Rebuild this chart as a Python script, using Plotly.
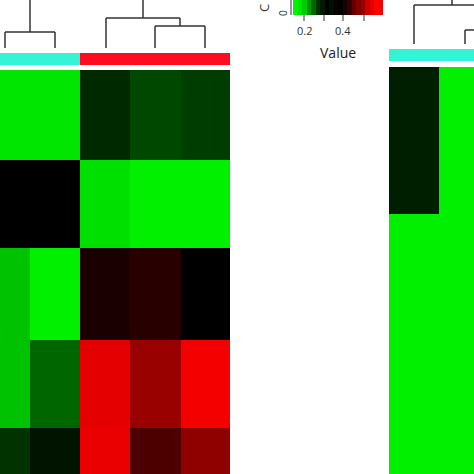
import plotly.graph_objects as go

# left heatmap: values 0=green, 0.5=black, 1=red
left_x_edges = [-20, 30, 80, 130, 181, 230]
left_y_edges = [70, 160, 248, 340, 428, 520]
left_vals = [
    [0.05, 0.05, 0.42, 0.36, 0.38],
    [0.50, 0.50, 0.06, 0.03, 0.03],
    [0.12, 0.03, 0.55, 0.58, 0.50],
    [0.12, 0.30, 0.95, 0.80, 0.98],
    [0.40, 0.46, 0.96, 0.65, 0.78],
]
right_x_edges = [389, 439, 500]
right_y_edges = [67, 214, 520]
right_vals = [[0.44, 0.03], [0.03, 0.03]]

key_vals = [0.02, 0.05, 0.1, 0.2, 0.3, 0.4, 0.45, 0.5, 0.47, 0.52, 0.5, 0.55, 0.6, 0.7, 0.75, 0.8, 0.9, 0.95, 1.0, 0.97]
key_ticks = ["0.2", "0.4"]

scale = [[0, "#00ff00"], [0.5, "#000000"], [1, "#ff0000"]]
fig = go.Figure()
fig.add_trace(go.Heatmap(x=left_x_edges, y=left_y_edges, z=left_vals, colorscale=scale,
                         zmin=0, zmax=1, showscale=False, hoverinfo="skip"))
fig.add_trace(go.Heatmap(x=right_x_edges, y=right_y_edges, z=right_vals, colorscale=scale,
                         zmin=0, zmax=1, showscale=False, hoverinfo="skip"))
n = len(key_vals)
kx = [293 + i * 90 / n for i in range(n + 1)]
fig.add_trace(go.Heatmap(x=kx, y=[0, 15], z=[key_vals], colorscale=scale,
                         zmin=0, zmax=1, showscale=False, hoverinfo="skip"))

bars = [(0, 80, 53, 65, "#33f5d5"), (80, 230, 53, 65, "#ff0d1f"), (389, 480, 49, 61, "#33f5d5")]
for x0, x1, y0, y1, c in bars:
    fig.add_shape(type="rect", x0=x0, x1=x1, y0=y0, y1=y1, fillcolor=c, line_width=0, layer="above")

dendro = [
    (5, 48, 5, 32), (55, 48, 55, 32), (5, 32, 55, 32), (30, 32, 30, -5),
    (106, 48, 106, 18), (155, 48, 155, 26), (205, 48, 205, 26), (155, 26, 205, 26),
    (180, 26, 180, 18), (106, 18, 180, 18), (143, 18, 143, -5),
    (414, 44, 414, 5), (414, 5, 480, 5), (452, 5, 452, -5), (465, 44, 465, 30), (465, 30, 480, 30),
]
for x0, y0, x1, y1 in dendro:
    fig.add_shape(type="line", x0=x0, y0=y0, x1=x1, y1=y1, line=dict(color="#333333", width=1.5))

for t in [304, 324, 343, 364]:
    fig.add_shape(type="line", x0=t, x1=t, y0=15, y1=21, line=dict(color="#333", width=1))
for lab, t in zip(key_ticks, [304, 343]):
    fig.add_annotation(x=t, y=30, text=lab, showarrow=False, font=dict(size=11, color="#333"))
fig.add_shape(type="line", x0=291, x1=291, y0=0, y1=15, line=dict(color="#333", width=1))
fig.add_annotation(x=338, y=52, text="Value", showarrow=False, font=dict(size=14, color="#222"))
fig.add_annotation(x=283, y=13, text="0", textangle=-90, showarrow=False, font=dict(size=10, color="#333"))
fig.add_annotation(x=264, y=8, text="C", textangle=-90, showarrow=False, font=dict(size=13, color="#333"))

fig.update_layout(width=474, height=474, margin=dict(l=0, r=0, t=0, b=0),
                  plot_bgcolor="white", paper_bgcolor="white", showlegend=False)
fig.update_xaxes(range=[0, 474], visible=False)
fig.update_yaxes(range=[474, 0], visible=False)
fig.write_html("out.html", config={"displayModeBar": False},
               post_script="document.body.style.margin='0';")
